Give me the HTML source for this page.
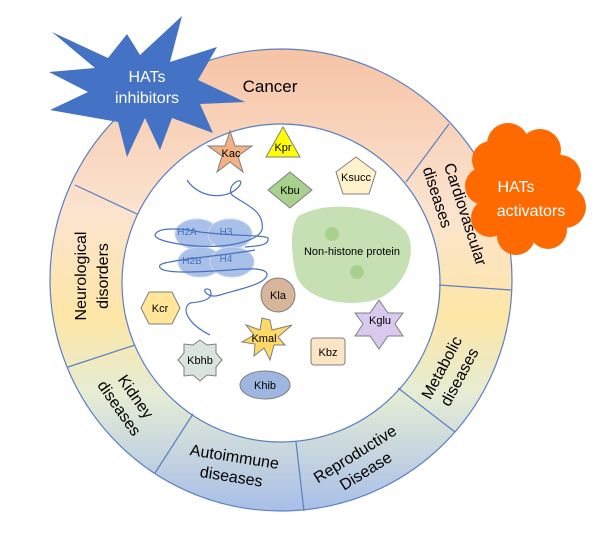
<!DOCTYPE html>
<html><head><meta charset="utf-8"><style>
html,body{margin:0;padding:0;background:#fff;width:600px;height:546px;overflow:hidden}
svg text{font-family:"Liberation Sans",Arial,sans-serif}
</style></head><body>
<svg width="600" height="546" viewBox="0 0 600 546" xmlns="http://www.w3.org/2000/svg">
<defs>
<linearGradient id="rg" x1="0" y1="0" x2="0" y2="1">
<stop offset="0" stop-color="#f6c3a6"/>
<stop offset="0.35" stop-color="#fbe3cf"/>
<stop offset="0.58" stop-color="#fde6a6"/>
<stop offset="0.75" stop-color="#e5ecd5"/>
<stop offset="1" stop-color="#a8bee8"/>
</linearGradient>
</defs>
<circle cx="281" cy="280" r="231" fill="url(#rg)" stroke="#5b7fc2" stroke-width="1.2"/>
<circle cx="281" cy="283" r="159" fill="#fff" stroke="#5b7fc2" stroke-width="1.2"/>
<g stroke="#5b7fc2" stroke-width="1.2">
<line x1="449" y1="124" x2="406" y2="182"/>
<line x1="511" y1="290" x2="439" y2="285"/>
<line x1="455" y1="432" x2="398" y2="388"/>
<line x1="304" y1="511" x2="296" y2="442"/>
<line x1="155" y1="473" x2="193" y2="414"/>
<line x1="68" y1="367" x2="135" y2="345"/>
<line x1="75" y1="185" x2="137" y2="214"/>
</g>
<text x="270" y="92" font-size="17" text-anchor="middle">Cancer</text>
<!-- cloud -->
<g fill="#ff6a00">
<circle cx="508" cy="144" r="21"/><circle cx="540" cy="150" r="21"/><circle cx="560" cy="176" r="21"/><circle cx="565" cy="207" r="21"/><circle cx="548" cy="230" r="19"/><circle cx="516" cy="236" r="19"/><circle cx="490" cy="218" r="19"/><circle cx="484" cy="186" r="19"/><circle cx="491" cy="160" r="19"/><circle cx="524" cy="190" r="44"/>
</g>
<text x="516" y="192" font-size="16" fill="#fff" text-anchor="middle">HATs</text>
<text x="531" y="216" font-size="16" fill="#fff" text-anchor="middle">activators</text>
<g font-size="16" text-anchor="middle">
<text transform="translate(466,214) rotate(72)" y="6">Cardiovascular</text>
<text transform="translate(438,197) rotate(72)" y="6">diseases</text>
<text transform="translate(450,372) rotate(-62)"><tspan x="0" y="-4">Metabolic</tspan><tspan x="0" y="16">diseases</tspan></text>
<text transform="translate(360,462) rotate(-32)"><tspan x="0" y="-4">Reproductive</tspan><tspan x="0" y="16">Disease</tspan></text>
<text transform="translate(233,466) rotate(9)"><tspan x="0" y="-4">Autoimmune</tspan><tspan x="0" y="16">diseases</tspan></text>
<text transform="translate(128,402) rotate(55)"><tspan x="0" y="-4">Kidney</tspan><tspan x="0" y="16">diseases</tspan></text>
<text transform="translate(90,276) rotate(-90)"><tspan x="0" y="-4">Neurological</tspan><tspan x="0" y="18">disorders</tspan></text>
</g>
<!-- star -->
<polygon fill="#4472c4" points="52,32 108,58 127,34 140,55 182,16 170,62 217,47 198,80 245,102 200,104 213,133 172,118 160,150 145,118 127,157 118,122 50,110 88,92 49,72 95,68"/>
<text x="147" y="82" font-size="16" fill="#fff" text-anchor="middle">HATs</text>
<text x="147" y="103" font-size="16" fill="#fff" text-anchor="middle">inhibitors</text>
<!-- chromatin -->
<g fill="#a9c0e8" stroke="#c9d7f0" stroke-width="1">
<ellipse cx="197" cy="234" rx="22" ry="15"/><ellipse cx="230" cy="234" rx="22" ry="15"/>
<ellipse cx="200" cy="262" rx="22" ry="15"/><ellipse cx="232" cy="262" rx="22" ry="15"/>
</g>
<g fill="none" stroke="#4a6fbe" stroke-width="1.2">
<path d="M187,180 C200,200 230,200 240,185 C245,175 225,185 232,195 C245,205 265,210 262,230 C258,240 235,245 220,246 C195,248 155,242 155,235 C158,225 190,230 200,232 C230,236 265,235 268,238 C270,246 255,246 245,247"/>
<path d="M255,250 C230,255 165,260 160,265 C155,275 200,272 230,270 C250,268 268,268 267,275 C265,285 235,290 220,295 C205,300 200,285 210,290 C215,300 200,302 190,303 C180,310 190,325 210,335"/>
</g>
<g font-size="10" fill="#4a6fbe" text-anchor="middle">
<text x="187" y="235">H2A</text><text x="226" y="235">H3</text>
<text x="192" y="264">H2B</text><text x="226" y="262">H4</text>
</g>
<!-- non-histone -->
<path d="M300,215 C330,200 380,205 405,230 C420,250 405,290 375,300 C345,308 305,300 296,275 C290,250 290,222 300,215Z" fill="#c6e0b4"/>
<circle cx="332" cy="234" r="7" fill="#a9d18e"/><circle cx="357" cy="272" r="7" fill="#a9d18e"/>
<text x="352" y="255" font-size="11" text-anchor="middle">Non-histone protein</text>
<!-- K shapes -->
<g stroke="#7f7f7f" stroke-width="1" font-size="11">
<polygon fill="#f4b183" points="230,131 235,146 252,146 238,156 243,172 230,162 217,172 222,156 208,146 225,146"/>
<polygon fill="#ffff00" points="283,127 300,157 266,157"/>
<polygon fill="#a9d18e" points="290,172 312,190 290,208 268,190"/>
<polygon fill="#fff2cc" points="356,157 376,172 369,194 343,194 336,172"/>
<polygon fill="#ffe699" points="149,292 172,292 180,308 172,324 149,324 141,308"/>
<circle cx="278" cy="295" r="17" fill="#d6b59a"/>
<polygon fill="#d9c9ee" points="379,300 388,313 403,313 395,324 403,336 388,336 379,349 370,336 355,336 363,324 355,313 370,313"/>
<polygon fill="#ffd966" points="270,320 272,330 292,325 278,337 285,345 274,345 270,360 264,348 254,356 255,344 242,342 254,335 246,325 260,330 262,318"/>
<polygon fill="#d9e4de" points="200,340 207,345 216,344 216,353 222,360 216,367 216,376 207,375 200,381 193,375 184,376 184,367 178,360 184,353 184,344 193,345"/>
<rect x="311" y="338" width="34" height="27" rx="3" fill="#fce4c4"/>
<ellipse cx="265" cy="385" rx="25" ry="14" fill="#9fb7e0"/>
</g>
<g font-size="11" text-anchor="middle">
<text x="231" y="157">Kac</text><text x="283" y="151">Kpr</text><text x="290" y="194">Kbu</text>
<text x="356" y="181">Ksucc</text><text x="160" y="312">Kcr</text><text x="278" y="299">Kla</text>
<text x="380" y="324">Kglu</text><text x="264" y="342">Kmal</text><text x="200" y="364">Kbhb</text>
<text x="328" y="356">Kbz</text><text x="265" y="389">Khib</text>
</g>
</svg>
</body></html>
